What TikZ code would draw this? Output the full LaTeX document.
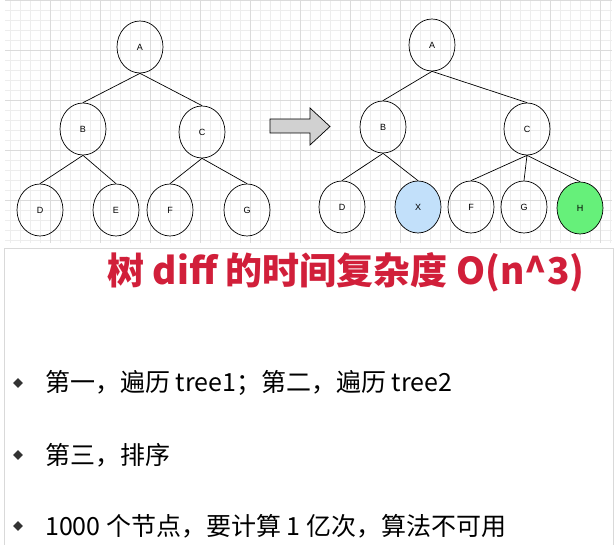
\documentclass[tikz,border=0pt]{standalone}
\usepackage{fontspec}
\newfontfamily\cjk{Noto Sans CJK SC}
\setsansfont{Liberation Sans}
\usetikzlibrary{shapes.geometric}
\definecolor{titlered}{HTML}{D11F3A}
\definecolor{xblue}{HTML}{C2E0FA}
\definecolor{hgreen}{HTML}{66F07A}
\begin{document}
\begin{tikzpicture}[x=1pt,y=-1pt,
  tn/.style={draw,ellipse,minimum width=46pt,minimum height=52pt,inner sep=0pt,font=\sffamily\small,line width=0.7pt},
  edge/.style={line width=0.7pt},
  bullet/.style={font=\cjk\fontsize{25}{30}\selectfont,anchor=west,inner sep=0pt},
  dia/.style={diamond,fill=black!80,inner sep=0pt,minimum size=10pt}]
\useasboundingbox (0,0) rectangle (616,545);
\fill[white] (0,0) rectangle (616,545);
\draw[black!7,step=10pt] (5,0) grid (612,243);
\draw[black!14,step=50pt] (5,0) grid (612,243);
\draw[black!15] (4,248) rectangle (613,545);
% left tree
\node[tn] (A) at (140,47) {A};
\node[tn] (B) at (83,129) {B};
\node[tn] (C) at (202,132) {C};
\node[tn] (D) at (40,210) {D};
\node[tn] (E) at (116,210) {E};
\node[tn] (F) at (170,210) {F};
\node[tn] (G) at (247,210) {G};
\draw[edge] (A.south) -- (B.north) (A.south) -- (C.north)
 (B.south) -- (D.north) (B.south) -- (E.north)
 (C.south) -- (F.north) (C.south) -- (G.north);
% arrow
\draw[fill=black!18,line width=0.7pt] (270,119) -- (310,119) -- (310,108) -- (330,126.5) -- (310,145) -- (310,133) -- (270,133) -- cycle;
% right tree
\node[tn] (A2) at (432,45) {A};
\node[tn] (B2) at (383,127) {B};
\node[tn] (C2) at (527,129) {C};
\node[tn] (D2) at (342,207) {D};
\node[tn,fill=xblue] (X2) at (418,207) {X};
\node[tn] (F2) at (471,207) {F};
\node[tn] (G2) at (524,207) {G};
\node[tn,fill=hgreen] (H2) at (580,208) {H};
\draw[edge] (A2.south) -- (B2.north) (A2.south) -- (C2.north)
 (B2.south) -- (D2.north) (B2.south) -- (X2.north)
 (C2.south) -- (F2.north) (C2.south) -- (G2.north) (C2.south) -- (H2.north);
% title
\node[font=\cjk\bfseries\fontsize{37}{42}\selectfont,text=titlered] (title) at (346,272) {树 diff 的时间复杂度 O(n\string^3)};
% bullets
\node[dia] (d1) at (18,383) {};
\node[bullet] (t1) at (45,383) {第一，遍历 tree1；第二，遍历 tree2};
\node[dia] (d2) at (18,455) {};
\node[bullet] (t2) at (45,455) {第三，排序};
\node[dia] (d3) at (18,526) {};
\node[bullet] (t3) at (45,526) {1000 个节点，要计算 1 亿次，算法不可用};
\end{tikzpicture}
\end{document}
